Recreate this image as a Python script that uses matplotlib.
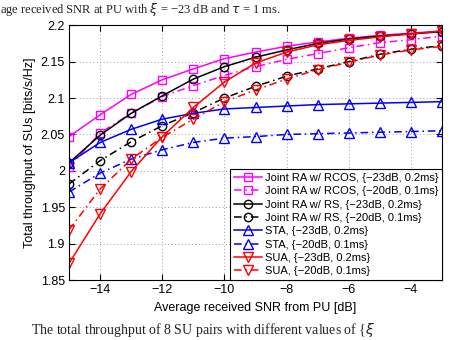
import matplotlib
matplotlib.use("Agg")
import matplotlib.pyplot as plt
import numpy as np
from matplotlib.ticker import FixedLocator, FuncFormatter

plt.rcParams['font.family'] = ['Liberation Sans', 'DejaVu Sans']
plt.rcParams['mathtext.fontset'] = 'dejavusans'

# average received SNR from PU [dB]
snr = [-15, -14, -13, -12, -11, -10, -9, -8, -7, -6, -5, -4, -3]

# total throughput of SUs [bits/s/Hz]
rcos_23 = [2.047, 2.077, 2.105, 2.125, 2.140, 2.154, 2.163, 2.171, 2.177, 2.182, 2.186, 2.189, 2.192]
rcos_20 = [2.005, 2.052, 2.079, 2.102, 2.117, 2.131, 2.143, 2.153, 2.161, 2.169, 2.176, 2.180, 2.185]
rs_23 = [2.011, 2.049, 2.079, 2.103, 2.126, 2.143, 2.156, 2.166, 2.175, 2.181, 2.185, 2.188, 2.191]
rs_20 = [1.982, 2.014, 2.040, 2.062, 2.080, 2.100, 2.116, 2.130, 2.140, 2.150, 2.160, 2.167, 2.172]
sta_23 = [2.011, 2.039, 2.057, 2.071, 2.079, 2.085, 2.087, 2.089, 2.091, 2.092, 2.093, 2.094, 2.095]
sta_20 = [1.971, 1.997, 2.016, 2.029, 2.039, 2.045, 2.047, 2.050, 2.051, 2.052, 2.053, 2.054, 2.055]
sua_23 = [1.873, 1.941, 1.999, 2.047, 2.087, 2.122, 2.148, 2.163, 2.173, 2.179, 2.184, 2.188, 2.192]
sua_20 = [1.919, 1.975, 2.016, 2.046, 2.071, 2.095, 2.111, 2.126, 2.139, 2.149, 2.159, 2.166, 2.171]

labels = [
    "Joint RA w/ RCOS, {\u221223dB, 0.2ms}",
    "Joint RA w/ RCOS, {\u221220dB, 0.1ms}",
    "Joint RA w/ RS, {\u221223dB, 0.2ms}",
    "Joint RA w/ RS, {\u221220dB, 0.1ms}",
    "STA, {\u221223dB, 0.2ms}",
    "STA, {\u221220dB, 0.1ms}",
    "SUA, {\u221223dB, 0.2ms}",
    "SUA, {\u221220dB, 0.1ms}",
]
series = [rcos_23, rcos_20, rs_23, rs_20, sta_23, sta_20, sua_23, sua_20]
colors = ['#ff00ff', '#ff00ff', 'k', 'k', '#0000ff', '#0000ff', '#ff0000', '#ff0000']
markers = ['s', 's', 'o', 'o', '^', '^', 'v', 'v']
msizes = [5.5, 5.5, 6, 6, 6.5, 6.5, 6.5, 6.5]
dashdot = (0, (5, 2.5, 1, 2.5))

fig = plt.figure(figsize=(4.74, 3.40), dpi=100)
ax = fig.add_axes([0.1456, 0.176, 0.7869, 0.750])

for i, (y, lab) in enumerate(zip(series, labels)):
    ls = '-' if i % 2 == 0 else dashdot
    ax.plot(snr, y, linestyle=ls, color=colors[i], marker=markers[i],
            markersize=msizes[i], markerfacecolor='none', markeredgewidth=1.0,
            linewidth=1.1, label=lab)

ax.set_xlim(-15, -3)
ax.set_ylim(1.85, 2.2)
ax.xaxis.set_major_locator(FixedLocator([-14, -12, -10, -8, -6, -4]))
ax.yaxis.set_major_locator(FixedLocator(np.arange(1.85, 2.2001, 0.05)))
ax.xaxis.set_major_formatter(FuncFormatter(lambda v, p: f"{v:g}".replace('-', '\u2212')))
ax.yaxis.set_major_formatter(FuncFormatter(lambda v, p: f"{round(v, 2):g}"))
ax.tick_params(direction='in', top=True, right=True, length=4, width=0.8,
               labelsize=9, pad=3)
ax.grid(True, linestyle=(0, (1, 2.5)), color='#9a9a9a', linewidth=0.7)
for s in ax.spines.values():
    s.set_linewidth(0.8)

ax.set_xlabel("Average received SNR from PU [dB]", fontsize=9, labelpad=4)
ax.set_ylabel("Total throughput of SUs [bits/s/Hz]", fontsize=9, labelpad=3)

leg = ax.legend(loc='lower right', bbox_to_anchor=(1.0, 0.0), borderaxespad=0.0,
                fontsize=8.0, handlelength=2.5, handletextpad=0.25,
                labelspacing=0.3, borderpad=0.35, fancybox=False,
                framealpha=1.0, edgecolor='k')
leg.get_frame().set_linewidth(0.8)

# caption lines of the surrounding page
fig.text(0.0, 0.997, "age received SNR at PU with $\\xi$ = \u221223 dB and $\\tau$ = 1 ms.",
         family='Liberation Serif', fontsize=9, ha='left', va='top', color='#222222')
fig.text(0.065, 0.004, "The total throughput of 8 SU pairs with different values of {$\\xi$",
         family='Liberation Serif', fontsize=10, ha='left', va='bottom', color='#222222')

fig.savefig("out.png", dpi=100)
